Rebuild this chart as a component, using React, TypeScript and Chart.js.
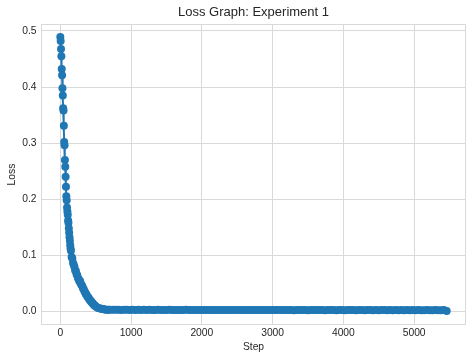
import React, { useEffect, useRef } from "react";
import { Chart, registerables } from "chart.js";

Chart.register(...registerables);

const TITLE = "Loss Graph: Experiment 1";
const X_LABEL = "Step";
const Y_LABEL = "Loss";
const X_TICKS = [0, 1000, 2000, 3000, 4000, 5000];
const Y_TICKS = [0, 0.1, 0.2, 0.3, 0.4, 0.5];

const earlySteps = [
  0, 5, 10, 15, 20, 25, 30, 35, 40, 45, 50, 55, 60, 65, 70, 75, 80, 85, 90, 95, 100,
  105, 110, 115, 120, 125, 130, 135, 140, 145, 150,
  160, 170, 180, 190, 200, 210, 220, 230, 240, 250, 260, 270, 280, 290, 300,
  310, 320, 330, 340, 350, 360, 370, 380, 390, 400, 410, 420, 430, 440, 450,
  460, 470, 480, 490, 500, 520, 540, 560, 580, 600, 620, 640, 660, 680, 700,
];
const earlyLoss = [
  0.489, 0.482, 0.468, 0.455, 0.432, 0.421, 0.398, 0.385, 0.362, 0.358, 0.331, 0.302, 0.296, 0.27, 0.258, 0.24, 0.222, 0.205, 0.198, 0.185, 0.178,
  0.172, 0.162, 0.158, 0.148, 0.14, 0.132, 0.126, 0.118, 0.112, 0.108,
  0.097, 0.094, 0.086, 0.083, 0.079, 0.073, 0.072, 0.066, 0.064, 0.059, 0.057, 0.053, 0.054, 0.049, 0.047,
  0.045, 0.041, 0.04, 0.036, 0.034, 0.031, 0.03, 0.027, 0.025, 0.024, 0.021, 0.02, 0.018, 0.017, 0.015,
  0.014, 0.012, 0.011, 0.01, 0.009, 0.007, 0.006, 0.005, 0.0045, 0.004, 0.0035, 0.003, 0.0028, 0.0027, 0.0026,
];
const lateSteps = [
  740, 780, 820, 860, 900, 940, 980, 1020, 1060, 1100,
  1140, 1180, 1220, 1260, 1300, 1340, 1380, 1420, 1460, 1500,
  1540, 1580, 1620, 1660, 1700, 1740, 1780, 1820, 1860, 1900,
  1940, 1980, 2020, 2060, 2100, 2140, 2180, 2220, 2260, 2300,
  2340, 2380, 2420, 2460, 2500, 2540, 2580, 2620, 2660, 2700,
  2740, 2780, 2820, 2860, 2900, 2940, 2980, 3020, 3060, 3100,
  3140, 3180, 3220, 3260, 3300, 3340, 3380, 3420, 3460, 3500,
  3540, 3580, 3620, 3660, 3700, 3740, 3780, 3820, 3860, 3900,
  3940, 3980, 4020, 4060, 4100, 4140, 4180, 4220, 4260, 4300,
  4340, 4380, 4420, 4460, 4500, 4540, 4580, 4620, 4660, 4700,
  4740, 4780, 4820, 4860, 4900, 4940, 4980, 5020, 5060, 5100,
  5140, 5180, 5220, 5260, 5300, 5340, 5380, 5420, 5460,
];
const lateLoss = [
  0.0027, 0.0026, 0.0028, 0.0025, 0.0027, 0.0026, 0.0025, 0.0027, 0.0024, 0.0026,
  0.0025, 0.0027, 0.0024, 0.0026, 0.0025, 0.0024, 0.0026, 0.0025, 0.0023, 0.0025,
  0.0026, 0.0024, 0.0025, 0.0023, 0.0025, 0.0024, 0.0026, 0.0024, 0.0023, 0.0025,
  0.0024, 0.0025, 0.0023, 0.0024, 0.0025, 0.0023, 0.0024, 0.0022, 0.0024, 0.0025,
  0.0023, 0.0024, 0.0022, 0.0024, 0.0023, 0.0025, 0.0023, 0.0022, 0.0024, 0.0023,
  0.0024, 0.0022, 0.0023, 0.0024, 0.0022, 0.0023, 0.0024, 0.0022, 0.0023, 0.0022,
  0.0024, 0.0023, 0.0022, 0.0023, 0.0021, 0.0023, 0.0024, 0.0022, 0.0023, 0.0021,
  0.0022, 0.0023, 0.0022, 0.0024, 0.0022, 0.0021, 0.0023, 0.0022, 0.0023, 0.0021,
  0.0022, 0.0023, 0.0021, 0.0022, 0.0023, 0.0022, 0.0021, 0.0023, 0.0022, 0.0021,
  0.0022, 0.0023, 0.0021, 0.0022, 0.0021, 0.0023, 0.0022, 0.0021, 0.0022, 0.002,
  0.0022, 0.0021, 0.0023, 0.0021, 0.0022, 0.002, 0.0022, 0.0021, 0.0022, 0.002,
  0.0021, 0.0022, 0.002, 0.0021, 0.0022, 0.002, 0.0021, 0.0022, 0.0004,
];

const FONT = "'Liberation Sans', Arial, sans-serif";
const TEXT = "#262626";
const GRID = "#d9d9d9";
const BLUE = "#1f77b4";

const frame = {
  id: "frame",
  beforeDatasetsDraw(chart: any) {
    const { ctx, chartArea: a } = chart;
    ctx.save();
    ctx.strokeStyle = GRID;
    ctx.lineWidth = 1;
    ctx.strokeRect(Math.round(a.left) + 0.5, Math.round(a.top) + 0.5, Math.round(a.right - a.left) - 1, Math.round(a.bottom - a.top) - 1);
    ctx.restore();
  },
};

export default function App() {
  const ref = useRef<HTMLCanvasElement | null>(null);
  useEffect(() => {
    document.body.style.margin = "0";
    const steps = [...earlySteps, ...lateSteps];
    const loss = [...earlyLoss, ...lateLoss];
    const data = steps.map((s, i) => ({ x: s, y: loss[i] }));
    const chart = new Chart(ref.current as HTMLCanvasElement, {
      type: "line",
      data: {
        datasets: [
          {
            data,
            borderColor: BLUE,
            backgroundColor: BLUE,
            borderWidth: 2,
            pointRadius: 4,
            pointBorderWidth: 0,
            pointBackgroundColor: BLUE,
            tension: 0,
          },
        ],
      },
      plugins: [frame],
      options: {
        responsive: false,
        animation: false,
        devicePixelRatio: 1,
        layout: { padding: { left: 0, right: 8, top: 0, bottom: 0 } },
        plugins: {
          legend: { display: false },
          tooltip: { enabled: false },
          title: {
            display: true,
            text: TITLE,
            fullSize: false,
            color: TEXT,
            font: { family: FONT, size: 13, weight: "normal" },
            padding: { top: 4.2, bottom: 4.2 },
          },
        },
        scales: {
          x: {
            type: "linear",
            min: -273,
            max: 5733,
            afterBuildTicks: (s: any) => {
              s.ticks = X_TICKS.map((v) => ({ value: v }));
            },
            afterFit: (s: any) => {
              s.height = 35;
            },
            ticks: {
              color: TEXT,
              font: { family: FONT, size: 10.3 },
              padding: 2,
              maxRotation: 0,
              callback: (v: any) => String(v),
            },
            grid: { color: GRID, lineWidth: 1, drawTicks: false },
            border: { display: false },
            title: {
              display: true,
              text: X_LABEL,
              color: TEXT,
              font: { family: FONT, size: 10.3 },
              padding: { top: 0, bottom: 7 },
            },
          },
          y: {
            type: "linear",
            min: -0.0244,
            max: 0.5124,
            afterBuildTicks: (s: any) => {
              s.ticks = Y_TICKS.map((v) => ({ value: v }));
            },
            afterFit: (s: any) => {
              s.width = 41;
            },
            ticks: {
              color: TEXT,
              font: { family: FONT, size: 10.3 },
              padding: 4.5,
              callback: (v: any) => Number(v).toFixed(1),
            },
            grid: { color: GRID, lineWidth: 1, drawTicks: false },
            border: { display: false },
            title: {
              display: true,
              text: Y_LABEL,
              color: TEXT,
              font: { family: FONT, size: 10.3 },
              padding: { top: 5.5, bottom: 0 },
            },
          },
        },
      },
    } as any);
    return () => chart.destroy();
  }, []);
  return (
    <div style={{ position: "absolute", left: 0, top: 0, width: 474, height: 360, background: "#fff" }}>
      <canvas ref={ref} width={474} height={360} />
    </div>
  );
}
